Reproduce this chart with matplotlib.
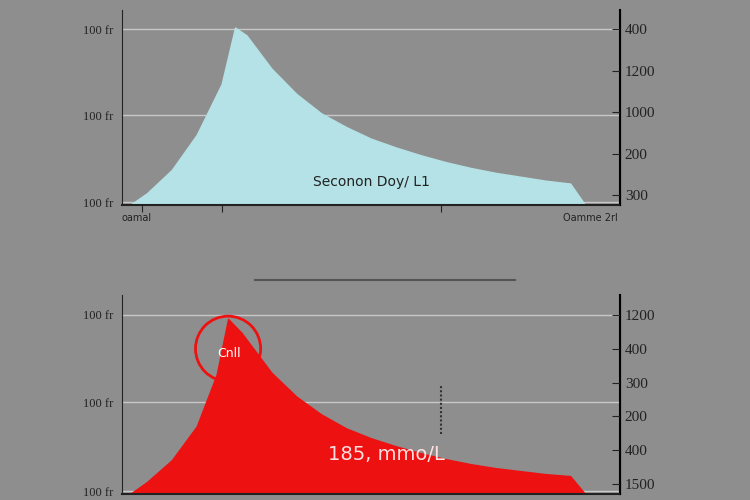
import matplotlib.pyplot as plt
import numpy as np

# data
top_x = [1.6, 5, 10, 15, 20, 22.7, 25, 30, 35, 40, 45, 50, 55, 60, 65, 70, 75, 80, 85, 90, 93]
top_y = [0, 60, 180, 360, 620, 910, 870, 700, 570, 470, 400, 340, 295, 255, 220, 190, 165, 145, 125, 110, 0]
bot_x = [1.6, 5, 10, 15, 19, 21.3, 24, 30, 35, 40, 45, 50, 55, 60, 65, 70, 75, 80, 85, 90, 93]
bot_y = [0, 60, 170, 340, 600, 880, 810, 610, 490, 400, 330, 280, 240, 205, 175, 150, 130, 115, 100, 90, 0]
left_labels = ["100 fr", "100 fr", "100 fr"]
top_right = ["400", "1200", "1000", "200", "300"]
bot_right = ["1200", "400", "300", "200", "400", "1500"]

bg = '#8e8e8e'
fig = plt.figure(figsize=(7.5, 5), dpi=100, facecolor=bg)

def panel(rect, xs, ys, color, right_labels, right_lim):
    ax = fig.add_axes(rect, facecolor=bg)
    ax.fill_between(xs, ys, 0, color=color, zorder=2)
    ax.set_xlim(0, 100)
    ax.set_ylim(0, 1000)
    ax.set_yticks([15, 460, 900])
    ax.set_yticklabels(left_labels[::-1], fontsize=9, color='#222222', family='Liberation Serif')
    ax.grid(axis='y', color='#c8c8c8', lw=1, zorder=1)
    ax.spines['top'].set_visible(False)
    ax.spines['left'].set_color('#222222')
    ax.spines['bottom'].set_color('#222222')
    ax.spines['bottom'].set_linewidth(1.5)
    ax.spines['right'].set_linewidth(1.5)
    ax.tick_params(axis='y', length=0, pad=6)
    ax2 = ax.twinx()
    ax2.set_ylim(*right_lim)
    n = len(right_labels)
    ax2.set_yticks(np.linspace(right_lim[1] * 0.9, right_lim[0] + 0.05 * (right_lim[1] - right_lim[0]), n))
    ax2.set_yticklabels(right_labels, fontsize=11, color='#222222', family='Liberation Serif')
    ax2.tick_params(axis='y', length=6, direction='in', color='#222222')
    for s in ['top', 'left', 'bottom']:
        ax2.spines[s].set_visible(False)
    return ax

ax1 = panel([122/750, 1 - 205/500, 498/750, 195/500], top_x, top_y, '#b4e2e6', top_right, (0, 5))
ax1.set_xticks([4, 20, 64])
ax1.set_xticklabels([])
ax1.tick_params(axis='x', length=5, color='#222222')
ax1.text(50, 95, "Seconon Doy/ L1", ha='center', fontsize=10, color='#222222', zorder=3)
ax1.text(3, -40, "oamal", ha='center', va='top', fontsize=7, color='#222222')
ax1.text(94, -40, "Oamme 2rl", ha='center', va='top', fontsize=7, color='#222222')

ax2 = panel([122/750, 6/500, 498/750, 199/500], bot_x, bot_y, '#ee1111', bot_right, (0, 6))
ax2.set_xticks([])
ax2.axvline(64, ymin=0.3, ymax=0.55, color='#333333', lw=1.5, ls=(0, (1, 1)), zorder=3)
ax2.scatter([21.3], [730], s=2200, facecolors='none', edgecolors='#ee1111', linewidths=2, zorder=4)
ax2.text(21.5, 690, "Cnll", ha='center', fontsize=9, color='white', zorder=5)
ax2.text(53, 170, "185, mmo/L", ha='center', fontsize=14, color='#ffe0e0', zorder=5)

fig.add_artist(plt.Line2D([255/750, 515/750], [1 - 280/500] * 2, color='#555555', lw=1.5))

plt.savefig("out.png", facecolor=bg)
